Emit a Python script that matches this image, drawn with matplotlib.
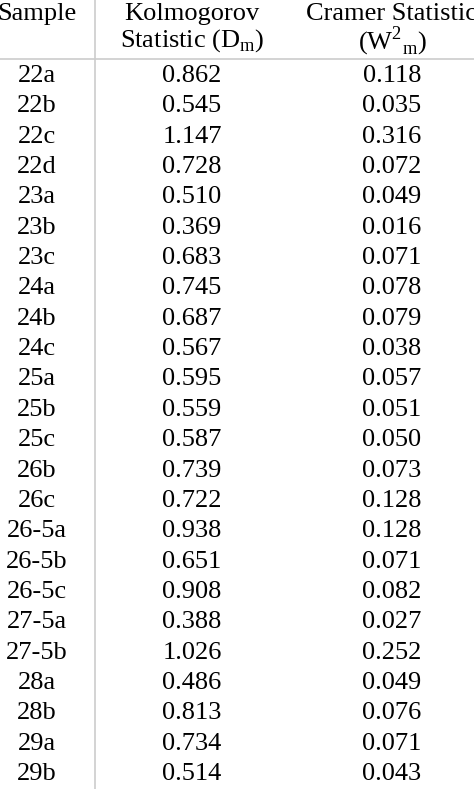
import matplotlib.pyplot as plt

samples = ['22a', '22b', '22c', '22d', '23a', '23b', '23c', '24a', '24b', '24c',
           '25a', '25b', '25c', '26b', '26c', '26-5a', '26-5b', '26-5c', '27-5a',
           '27-5b', '28a', '28b', '29a', '29b']
kolmogorov = ['0.862', '0.545', '1.147', '0.728', '0.510', '0.369', '0.683', '0.745',
              '0.687', '0.567', '0.595', '0.559', '0.587', '0.739', '0.722', '0.938',
              '0.651', '0.908', '0.388', '1.026', '0.486', '0.813', '0.734', '0.514']
cramer = ['0.118', '0.035', '0.316', '0.072', '0.049', '0.016', '0.071', '0.078',
          '0.079', '0.038', '0.057', '0.051', '0.050', '0.073', '0.128', '0.128',
          '0.071', '0.082', '0.027', '0.252', '0.049', '0.076', '0.071', '0.043']

plt.rcParams['font.family'] = ['Liberation Serif', 'DejaVu Serif']

fig = plt.figure(figsize=(4.74, 7.89), dpi=100)
ax = fig.add_axes([0, 0, 1, 1])
ax.set_xlim(0, 474)
ax.set_ylim(789, 0)
ax.axis('off')

fs = 19
x_cols = [37, 192, 392]

# header
ax.text(x_cols[0], 14, 'Sample', ha='center', va='center', fontsize=fs)
ax.text(x_cols[1], 14, 'Kolmogorov', ha='center', va='center', fontsize=fs)
ax.text(x_cols[1], 41, r'Statistic (D$_{\mathregular{m}}$)', ha='center', va='center', fontsize=fs)
ax.text(x_cols[2], 14, 'Cramer Statistic', ha='center', va='center', fontsize=fs)
ax.text(x_cols[2], 41, r'(W$^{\mathregular{2}}$$_{\mathregular{m}}$)', ha='center', va='center', fontsize=fs)

# rule lines
ax.plot([0, 474], [59, 59], color='#cccccc', lw=1.2)
ax.plot([95, 95], [0, 789], color='#cccccc', lw=1.2)

step = (773 - 75) / (len(samples) - 1)
for i, (s, k, c) in enumerate(zip(samples, kolmogorov, cramer)):
    y = 76 + i * step
    ax.text(x_cols[0], y, s, ha='center', va='center', fontsize=fs)
    ax.text(x_cols[1], y, k, ha='center', va='center', fontsize=fs)
    ax.text(x_cols[2], y, c, ha='center', va='center', fontsize=fs)

fig.savefig('out.png', dpi=100)
